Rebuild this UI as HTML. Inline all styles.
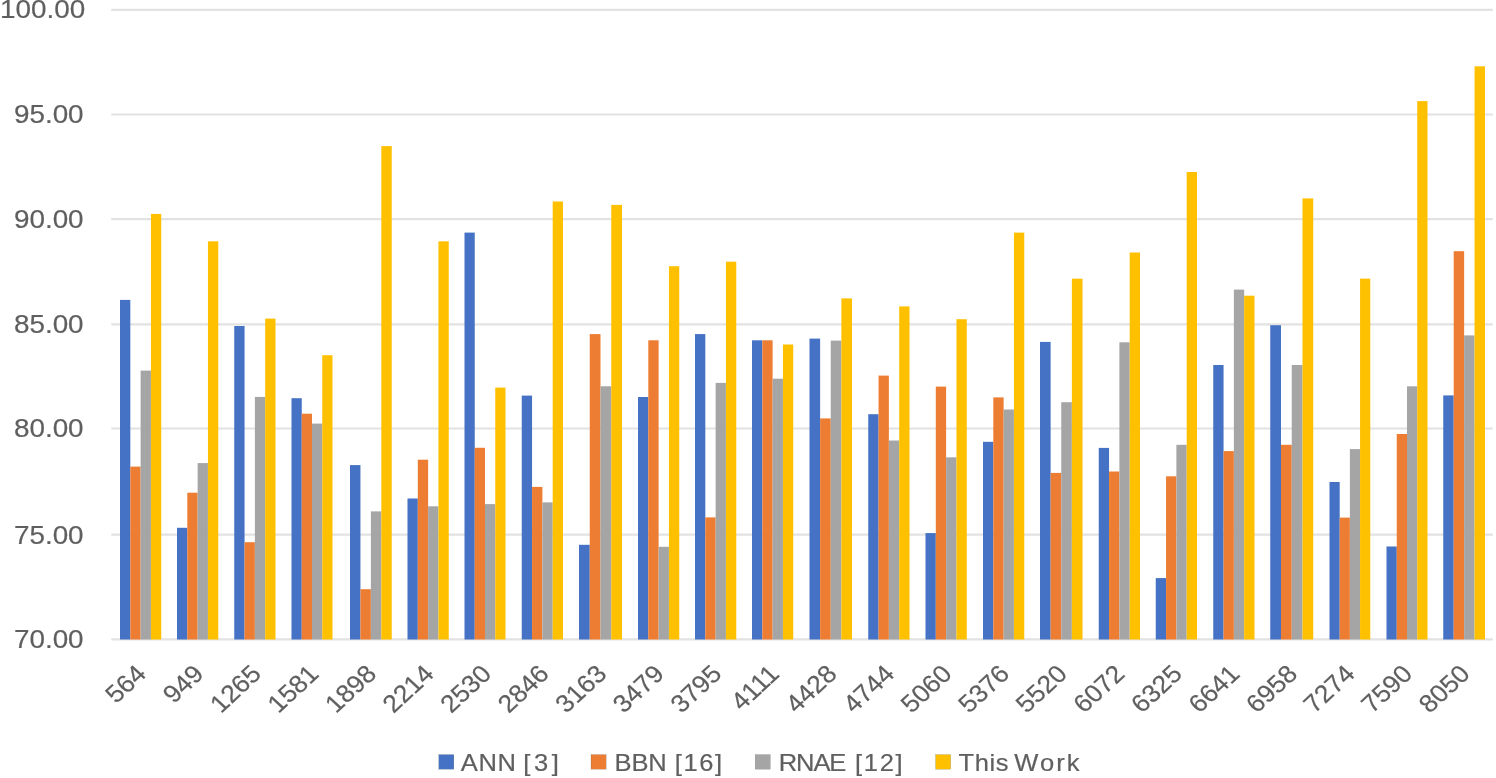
<!DOCTYPE html>
<html lang="en"><head><meta charset="utf-8"><title>Accuracy comparison chart</title>
<style>
html,body{margin:0;padding:0;background:#fff;}
body{width:1496px;height:778px;overflow:hidden;font-family:"Liberation Sans",Arial,sans-serif;}
svg{display:block;}
</style></head><body>
<svg width="1496" height="778" viewBox="0 0 1496 778">
<defs><filter id="soft" x="0" y="0" width="1496" height="778" filterUnits="userSpaceOnUse"><feGaussianBlur stdDeviation="0.5"/></filter></defs>
<rect width="1496" height="778" fill="#fff"/>
<g filter="url(#soft)">
<g stroke="#E2E2E2" stroke-width="2.2">
<line x1="111.3" y1="9.80" x2="1492.8" y2="9.80"/>
<line x1="111.3" y1="114.50" x2="1492.8" y2="114.50"/>
<line x1="111.3" y1="219.20" x2="1492.8" y2="219.20"/>
<line x1="111.3" y1="324.40" x2="1492.8" y2="324.40"/>
<line x1="111.3" y1="428.50" x2="1492.8" y2="428.50"/>
<line x1="111.3" y1="534.60" x2="1492.8" y2="534.60"/>
<line x1="111.3" y1="639.30" x2="1492.8" y2="639.30"/>
</g>
<g fill="#4472C4">
<rect x="120.00" y="299.90" width="10.312" height="339.60"/>
<rect x="177.00" y="527.80" width="10.312" height="111.70"/>
<rect x="234.25" y="326.00" width="10.312" height="313.50"/>
<rect x="291.50" y="398.20" width="10.250" height="241.30"/>
<rect x="350.00" y="465.10" width="10.438" height="174.40"/>
<rect x="407.50" y="498.50" width="10.312" height="141.00"/>
<rect x="464.50" y="232.60" width="10.250" height="406.90"/>
<rect x="521.75" y="395.60" width="10.312" height="243.90"/>
<rect x="579.00" y="544.80" width="10.750" height="94.70"/>
<rect x="638.00" y="397.00" width="10.312" height="242.50"/>
<rect x="695.00" y="334.10" width="10.312" height="305.40"/>
<rect x="752.00" y="340.30" width="10.312" height="299.20"/>
<rect x="809.50" y="338.60" width="10.625" height="300.90"/>
<rect x="868.25" y="414.20" width="10.312" height="225.30"/>
<rect x="925.50" y="533.10" width="10.312" height="106.40"/>
<rect x="983.00" y="441.80" width="10.312" height="197.70"/>
<rect x="1040.00" y="341.90" width="10.625" height="297.60"/>
<rect x="1098.75" y="447.90" width="10.312" height="191.60"/>
<rect x="1155.75" y="578.10" width="10.312" height="61.40"/>
<rect x="1213.25" y="365.00" width="10.312" height="274.50"/>
<rect x="1270.25" y="325.20" width="10.750" height="314.30"/>
<rect x="1329.50" y="482.00" width="10.188" height="157.50"/>
<rect x="1386.50" y="546.50" width="10.250" height="93.00"/>
<rect x="1443.25" y="395.40" width="10.438" height="244.10"/>
</g>
<g fill="#ED7D31">
<rect x="130.31" y="466.60" width="10.312" height="172.90"/>
<rect x="187.31" y="492.70" width="10.312" height="146.80"/>
<rect x="244.56" y="542.20" width="10.312" height="97.30"/>
<rect x="301.75" y="413.70" width="10.250" height="225.80"/>
<rect x="360.44" y="589.20" width="10.438" height="50.30"/>
<rect x="417.81" y="459.70" width="10.312" height="179.80"/>
<rect x="474.75" y="447.80" width="10.250" height="191.70"/>
<rect x="532.06" y="486.90" width="10.312" height="152.60"/>
<rect x="589.75" y="334.10" width="10.750" height="305.40"/>
<rect x="648.31" y="340.30" width="10.312" height="299.20"/>
<rect x="705.31" y="517.40" width="10.312" height="122.10"/>
<rect x="762.31" y="340.30" width="10.312" height="299.20"/>
<rect x="820.12" y="418.40" width="10.625" height="221.10"/>
<rect x="878.56" y="375.60" width="10.312" height="263.90"/>
<rect x="935.81" y="386.60" width="10.312" height="252.90"/>
<rect x="993.31" y="397.40" width="10.312" height="242.10"/>
<rect x="1050.62" y="472.90" width="10.625" height="166.60"/>
<rect x="1109.06" y="471.50" width="10.312" height="168.00"/>
<rect x="1166.06" y="476.30" width="10.312" height="163.20"/>
<rect x="1223.56" y="451.10" width="10.312" height="188.40"/>
<rect x="1281.00" y="444.80" width="10.750" height="194.70"/>
<rect x="1339.69" y="517.60" width="10.188" height="121.90"/>
<rect x="1396.75" y="434.00" width="10.250" height="205.50"/>
<rect x="1453.69" y="251.20" width="10.438" height="388.30"/>
</g>
<g fill="#A5A5A5">
<rect x="140.62" y="370.60" width="10.312" height="268.90"/>
<rect x="197.62" y="463.10" width="10.312" height="176.40"/>
<rect x="254.88" y="396.90" width="10.312" height="242.60"/>
<rect x="312.00" y="423.60" width="10.250" height="215.90"/>
<rect x="370.88" y="511.40" width="10.438" height="128.10"/>
<rect x="428.12" y="506.30" width="10.312" height="133.20"/>
<rect x="485.00" y="504.10" width="10.250" height="135.40"/>
<rect x="542.38" y="502.40" width="10.312" height="137.10"/>
<rect x="600.50" y="386.30" width="10.750" height="253.20"/>
<rect x="658.62" y="546.80" width="10.312" height="92.70"/>
<rect x="715.62" y="382.90" width="10.312" height="256.60"/>
<rect x="772.62" y="378.70" width="10.312" height="260.80"/>
<rect x="830.75" y="340.60" width="10.625" height="298.90"/>
<rect x="888.88" y="440.50" width="10.312" height="199.00"/>
<rect x="946.12" y="457.30" width="10.312" height="182.20"/>
<rect x="1003.62" y="409.50" width="10.312" height="230.00"/>
<rect x="1061.25" y="402.20" width="10.625" height="237.30"/>
<rect x="1119.38" y="342.30" width="10.312" height="297.20"/>
<rect x="1176.38" y="444.80" width="10.312" height="194.70"/>
<rect x="1233.88" y="289.60" width="10.312" height="349.90"/>
<rect x="1291.75" y="365.00" width="10.750" height="274.50"/>
<rect x="1349.88" y="449.10" width="10.188" height="190.40"/>
<rect x="1407.00" y="386.30" width="10.250" height="253.20"/>
<rect x="1464.12" y="335.40" width="10.438" height="304.10"/>
</g>
<g fill="#FFC000">
<rect x="150.94" y="213.90" width="10.312" height="425.60"/>
<rect x="207.94" y="241.30" width="10.312" height="398.20"/>
<rect x="265.19" y="318.60" width="10.312" height="320.90"/>
<rect x="322.25" y="355.20" width="10.250" height="284.30"/>
<rect x="381.31" y="146.10" width="10.438" height="493.40"/>
<rect x="438.44" y="241.30" width="10.312" height="398.20"/>
<rect x="495.25" y="387.60" width="10.250" height="251.90"/>
<rect x="552.69" y="201.50" width="10.312" height="438.00"/>
<rect x="611.25" y="204.90" width="10.750" height="434.60"/>
<rect x="668.94" y="266.20" width="10.312" height="373.30"/>
<rect x="725.94" y="261.70" width="10.312" height="377.80"/>
<rect x="782.94" y="344.50" width="10.312" height="295.00"/>
<rect x="841.38" y="298.40" width="10.625" height="341.10"/>
<rect x="899.19" y="306.40" width="10.312" height="333.10"/>
<rect x="956.44" y="319.20" width="10.312" height="320.30"/>
<rect x="1013.94" y="232.60" width="10.312" height="406.90"/>
<rect x="1071.88" y="278.70" width="10.625" height="360.80"/>
<rect x="1129.69" y="252.50" width="10.312" height="387.00"/>
<rect x="1186.69" y="172.00" width="10.312" height="467.50"/>
<rect x="1244.19" y="295.70" width="10.312" height="343.80"/>
<rect x="1302.50" y="198.40" width="10.750" height="441.10"/>
<rect x="1360.06" y="278.60" width="10.188" height="360.90"/>
<rect x="1417.25" y="101.10" width="10.250" height="538.40"/>
<rect x="1474.56" y="66.30" width="10.438" height="573.20"/>
</g>
<g font-family="Liberation Sans, Arial, sans-serif" font-size="25.0" fill="#5f5f5f" stroke="#5f5f5f" stroke-width="0.2">
<text transform="translate(85.2 18.20) scale(1.114 1)" text-anchor="end">100.00</text>
<text transform="translate(83.6 122.95) scale(1.114 1)" text-anchor="end">95.00</text>
<text transform="translate(83.6 228.25) scale(1.114 1)" text-anchor="end">90.00</text>
<text transform="translate(83.6 332.55) scale(1.114 1)" text-anchor="end">85.00</text>
<text transform="translate(83.6 437.15) scale(1.114 1)" text-anchor="end">80.00</text>
<text transform="translate(83.6 544.05) scale(1.114 1)" text-anchor="end">75.00</text>
<text transform="translate(83.6 648.25) scale(1.114 1)" text-anchor="end">70.00</text>
<text transform="translate(147.58 675.30) scale(1.08 1) rotate(-45)" font-size="24.6" text-anchor="end">564</text>
<text transform="translate(205.14 675.30) scale(1.08 1) rotate(-45)" font-size="24.6" text-anchor="end">949</text>
<text transform="translate(262.71 675.30) scale(1.08 1) rotate(-45)" font-size="24.6" text-anchor="end">1265</text>
<text transform="translate(320.27 675.30) scale(1.08 1) rotate(-45)" font-size="24.6" text-anchor="end">1581</text>
<text transform="translate(377.83 675.30) scale(1.08 1) rotate(-45)" font-size="24.6" text-anchor="end">1898</text>
<text transform="translate(435.39 675.30) scale(1.08 1) rotate(-45)" font-size="24.6" text-anchor="end">2214</text>
<text transform="translate(492.96 675.30) scale(1.08 1) rotate(-45)" font-size="24.6" text-anchor="end">2530</text>
<text transform="translate(550.52 675.30) scale(1.08 1) rotate(-45)" font-size="24.6" text-anchor="end">2846</text>
<text transform="translate(608.08 675.30) scale(1.08 1) rotate(-45)" font-size="24.6" text-anchor="end">3163</text>
<text transform="translate(665.64 675.30) scale(1.08 1) rotate(-45)" font-size="24.6" text-anchor="end">3479</text>
<text transform="translate(723.21 675.30) scale(1.08 1) rotate(-45)" font-size="24.6" text-anchor="end">3795</text>
<text transform="translate(780.77 675.30) scale(1.08 1) rotate(-45)" font-size="24.6" text-anchor="end">4111</text>
<text transform="translate(838.33 675.30) scale(1.08 1) rotate(-45)" font-size="24.6" text-anchor="end">4428</text>
<text transform="translate(895.89 675.30) scale(1.08 1) rotate(-45)" font-size="24.6" text-anchor="end">4744</text>
<text transform="translate(953.46 675.30) scale(1.08 1) rotate(-45)" font-size="24.6" text-anchor="end">5060</text>
<text transform="translate(1011.02 675.30) scale(1.08 1) rotate(-45)" font-size="24.6" text-anchor="end">5376</text>
<text transform="translate(1068.58 675.30) scale(1.08 1) rotate(-45)" font-size="24.6" text-anchor="end">5520</text>
<text transform="translate(1126.14 675.30) scale(1.08 1) rotate(-45)" font-size="24.6" text-anchor="end">6072</text>
<text transform="translate(1183.71 675.30) scale(1.08 1) rotate(-45)" font-size="24.6" text-anchor="end">6325</text>
<text transform="translate(1241.27 675.30) scale(1.08 1) rotate(-45)" font-size="24.6" text-anchor="end">6641</text>
<text transform="translate(1298.83 675.30) scale(1.08 1) rotate(-45)" font-size="24.6" text-anchor="end">6958</text>
<text transform="translate(1356.39 675.30) scale(1.08 1) rotate(-45)" font-size="24.6" text-anchor="end">7274</text>
<text transform="translate(1413.96 675.30) scale(1.08 1) rotate(-45)" font-size="24.6" text-anchor="end">7590</text>
<text transform="translate(1471.52 675.30) scale(1.08 1) rotate(-45)" font-size="24.6" text-anchor="end">8050</text>
</g>
<g font-family="Liberation Sans, Arial, sans-serif" font-size="23.2" fill="#5f5f5f" stroke="#5f5f5f" stroke-width="0.2">
<rect x="438.8" y="754.6" width="15.1" height="14.6" fill="#4472C4"/>
<text transform="scale(1.1 1)" y="770.7"><tspan x="418.91" textLength="50.18" lengthAdjust="spacing">ANN</tspan> <tspan x="475.64" textLength="32.36" lengthAdjust="spacing">[3]</tspan></text>
<rect x="591.0" y="754.6" width="15.1" height="14.6" fill="#ED7D31"/>
<text transform="scale(1.1 1)" y="770.7"><tspan x="558.73" textLength="47.45" lengthAdjust="spacing">BBN</tspan> <tspan x="613.45" textLength="43.09" lengthAdjust="spacing">[16]</tspan></text>
<rect x="755.2" y="754.6" width="15.1" height="14.6" fill="#A5A5A5"/>
<text transform="scale(1.1 1)" y="770.7"><tspan x="708.00" textLength="61.45" lengthAdjust="spacing">RNAE</tspan> <tspan x="777.27" textLength="43.27" lengthAdjust="spacing">[12]</tspan></text>
<rect x="935.6" y="754.6" width="15.1" height="14.6" fill="#FFC000"/>
<text transform="scale(1.1 1)" y="770.7"><tspan x="871.45" textLength="45.27" lengthAdjust="spacing">This</tspan> <tspan x="922.00" textLength="59.45" lengthAdjust="spacing">Work</tspan></text>
</g>
</g>
</svg>
</body></html>
